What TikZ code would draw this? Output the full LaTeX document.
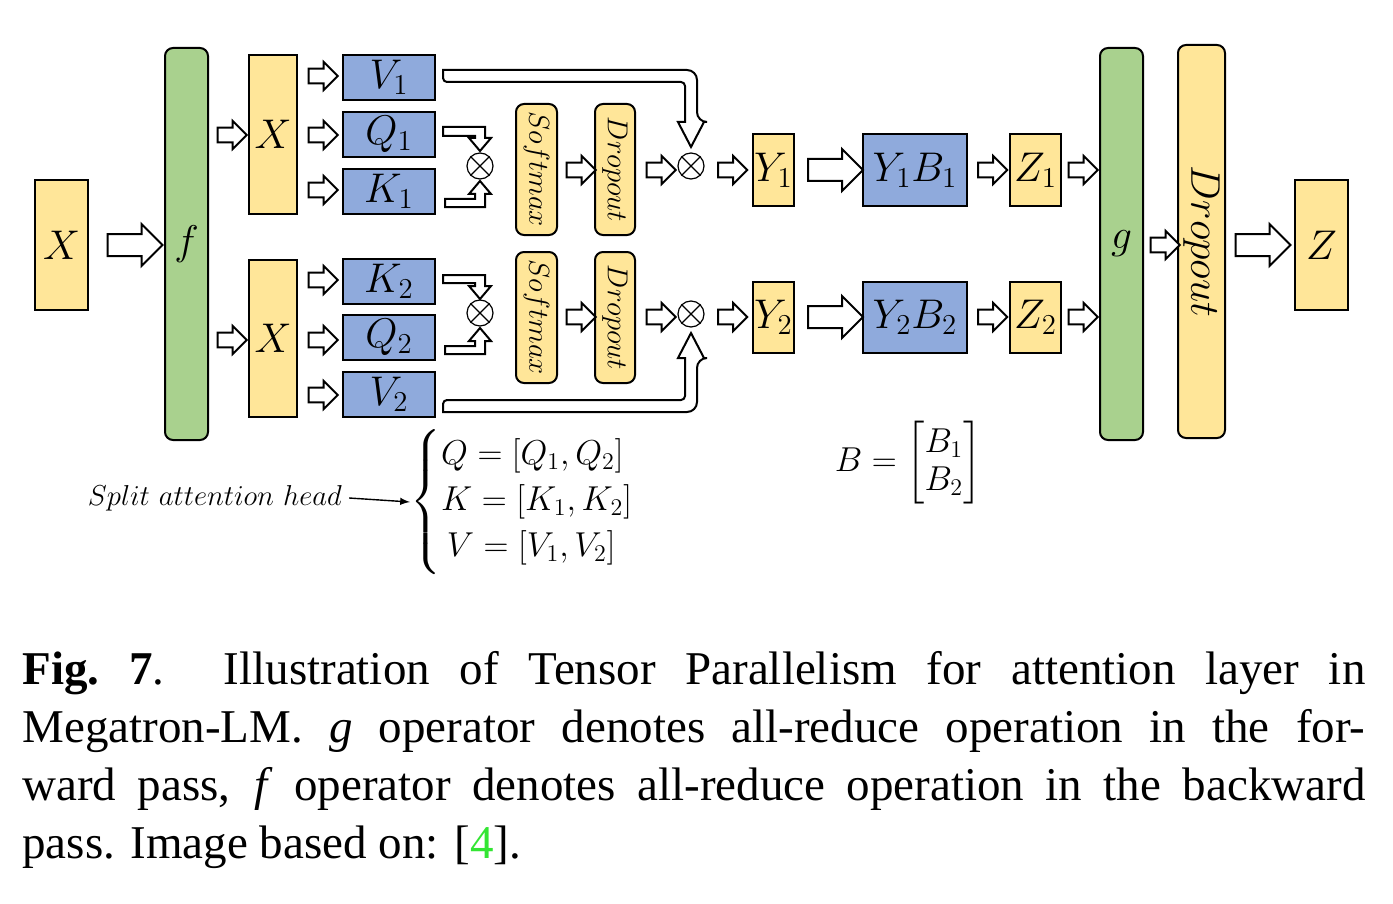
\documentclass[tikz,border=0pt]{standalone}
\usepackage{amsmath}
\usepackage{fontspec}
\newfontfamily\capfont{Liberation Serif}
\usetikzlibrary{shapes.arrows}
\definecolor{yel}{HTML}{FFE699}
\definecolor{blu}{HTML}{8FAADC}
\definecolor{grn}{HTML}{A9D18E}
\definecolor{refg}{rgb}{0.2,0.9,0.2}
\begin{document}
\begin{tikzpicture}[x=0.5pt,y=-0.5pt,
  box/.style={draw,line width=1pt,inner sep=0,font=\fontsize{21}{24}\selectfont},
  yb/.style={box,fill=yel},
  bb/.style={box,fill=blu},
  gb/.style={box,fill=grn,rounded corners=4pt},
  rb/.style={box,fill=yel,rounded corners=4pt},
  rt/.style={rotate=-90,font=\fontsize{14}{16}\selectfont},
  sarr/.style={single arrow,draw,fill=white,line width=1pt,inner sep=0,inner ysep=3.2pt,single arrow head extend=3.3pt,minimum height=14.5pt},
  barr/.style={single arrow,draw,fill=white,line width=1pt,inner sep=0,inner ysep=5pt,single arrow head extend=5pt,minimum height=27.5pt},
  bent/.style={draw,fill=white,line width=1pt},
  ot/.style={circle,draw,line width=0.6pt,minimum size=13pt,inner sep=0}]
\useasboundingbox (0,0) rectangle (1393,904);
% boxes
\node[yb,minimum width=26.5pt,minimum height=65pt] (X0) at (61.5,245) {$X$};
\node[gb,minimum width=21.5pt,minimum height=196pt] (f) at (186.5,244) {$f$};
\node[yb,minimum width=24pt,minimum height=79.5pt] (Xu) at (273,134.5) {$X$};
\node[yb,minimum width=24pt,minimum height=78.5pt] (Xl) at (273,338.5) {$X$};
\node[bb,minimum width=46pt,minimum height=22.5pt] (V1) at (389,77.5) {$V_1$};
\node[bb,minimum width=46pt,minimum height=22.5pt] (Q1) at (389,134.5) {$Q_1$};
\node[bb,minimum width=46pt,minimum height=22.5pt] (K1) at (389,191.5) {$K_1$};
\node[bb,minimum width=46pt,minimum height=22.5pt] (K2) at (389,281) {$K_2$};
\node[bb,minimum width=46pt,minimum height=22.5pt] (Q2) at (389,337.5) {$Q_2$};
\node[bb,minimum width=46pt,minimum height=22.5pt] (V2) at (389,394.5) {$V_2$};
\node[rb,minimum width=20.5pt,minimum height=65.5pt] (S1) at (536.5,169.5) {};
\node[rt] at (S1) {$Softmax$};
\node[rb,minimum width=20.5pt,minimum height=65.5pt] (S2) at (536.5,317.5) {};
\node[rt] at (S2) {$Softmax$};
\node[rb,minimum width=20pt,minimum height=65.5pt] (D1) at (615,169.5) {};
\node[rt] at (D1) {$Dropout$};
\node[rb,minimum width=20pt,minimum height=65.5pt] (D2) at (615,317.5) {};
\node[rt] at (D2) {$Dropout$};
\node[yb,minimum width=20.5pt,minimum height=36pt] (Y1) at (773.5,170) {$Y_1$};
\node[yb,minimum width=20.5pt,minimum height=35.5pt] (Y2) at (773.5,317.5) {$Y_2$};
\node[bb,minimum width=52pt,minimum height=36pt] (YB1) at (915,170) {$Y_1B_1$};
\node[bb,minimum width=52pt,minimum height=35.5pt] (YB2) at (915,317.5) {$Y_2B_2$};
\node[yb,minimum width=25.5pt,minimum height=36pt] (Z1) at (1035.5,170) {$Z_1$};
\node[yb,minimum width=25.5pt,minimum height=35.5pt] (Z2) at (1035.5,317.5) {$Z_2$};
\node[gb,minimum width=21.5pt,minimum height=196pt] (g) at (1121.5,244) {$g$};
\node[rb,minimum width=23.5pt,minimum height=196.5pt] (DB) at (1201.5,241.5) {};
\node[rotate=-90,font=\fontsize{21}{24}\selectfont] at (DB) {$Dropout$};
\node[yb,minimum width=26.5pt,minimum height=65pt] (Z) at (1321.5,245) {$Z$};
% otimes
\node[ot] (o1) at (480,166) {};
\node[ot] (o2) at (480,313) {};
\node[ot] (o3) at (691,166) {};
\node[ot] (o4) at (691,314) {};
\foreach \o in {o1,o2,o3,o4}{\draw[line width=0.6pt] (\o.north east)--(\o.south west) (\o.north west)--(\o.south east);}
% block arrows
\node[barr] (a1) at (129.5,245) {};
\node[sarr] (a2) at (228.5,135) {};
\node[sarr] (a3) at (228.5,340) {};
\foreach \y/\n in {76/b1,135/b2,190/b3,280/b4,340/b5,395/b6}{\node[sarr] (\n) at (319.5,\y) {};}
\foreach \y/\n in {170/1,317/2}{
  \node[sarr] (c\n) at (577.5,\y) {};
  \node[sarr] (d\n) at (657.5,\y) {};
  \node[sarr] (e\n) at (729,\y) {};
  \node[barr] (h\n) at (830,\y) {};
  \node[sarr] (i\n) at (989,\y) {};
  \node[sarr] (j\n) at (1079.5,\y) {};
}
\node[sarr] (k) at (1161.5,245) {};
\node[barr] (l) at (1257.5,245) {};
% bent arrows
\draw[bent] (443,70) [rounded corners=5pt] -- (697,70) -- (697,122) [sharp corners] -- (704,122) -- (691,147) -- (678,122) -- (685,122) [rounded corners=2pt] -- (685,82) -- (443,82) [sharp corners] -- cycle;
\draw[bent] (443,412) [rounded corners=5pt] -- (697,412) -- (697,358) [sharp corners] -- (704,358) -- (691,333) -- (678,358) -- (685,358) [rounded corners=2pt] -- (685,400) -- (443,400) [sharp corners] -- cycle;
\draw[bent] (443,127) -- (485,127) -- (485,138) -- (491,138) -- (480,151) -- (469,138) -- (475,138) -- (475,136) -- (443,136) -- cycle;
\draw[bent] (445,207) -- (485,207) -- (485,194) -- (491,194) -- (480,181) -- (469,194) -- (475,194) -- (475,199) -- (445,199) -- cycle;
\draw[bent] (443,275) -- (485,275) -- (485,286) -- (491,286) -- (480,299) -- (469,286) -- (475,286) -- (475,283) -- (443,283) -- cycle;
\draw[bent] (445,354) -- (485,354) -- (485,341) -- (491,341) -- (480,328) -- (469,341) -- (475,341) -- (475,346) -- (445,346) -- cycle;
% bottom texts
\node[font=\fontsize{15}{18}\selectfont] (sp) at (215,498) {$Split\ attention\ head$};
\node[font=\fontsize{18}{22}\selectfont,inner sep=0,anchor=west] (eq) at (410,502) {$\left\{\begin{array}{@{}l@{}} Q=[Q_1,Q_2]\\[1pt] K=[K_1,K_2]\\[1pt] \,V=[V_1,V_2]\end{array}\right.$};
\draw[-latex,line width=0.7pt] (sp.east) -- (eq.west);
\node[font=\fontsize{18}{22}\selectfont] (Bm) at (908,463) {$B=\begin{bmatrix}B_1\\[-3pt]B_2\end{bmatrix}$};
% caption
\node[anchor=north west,inner sep=0,text width=671.5pt,align=justify,font=\capfont\fontsize{23.5}{29}\selectfont] (cap) at (22,651) {\textbf{Fig.\ 7}.\ \ Illustration of Tensor Parallelism for attention layer in\linebreak Megatron-LM. \textit{g} operator denotes all-reduce operation in the for-\linebreak ward pass, \textit{f} operator denotes all-reduce operation in the backward\linebreak pass. Image based on: [{\color{refg}4}].};
\end{tikzpicture}
\end{document}
